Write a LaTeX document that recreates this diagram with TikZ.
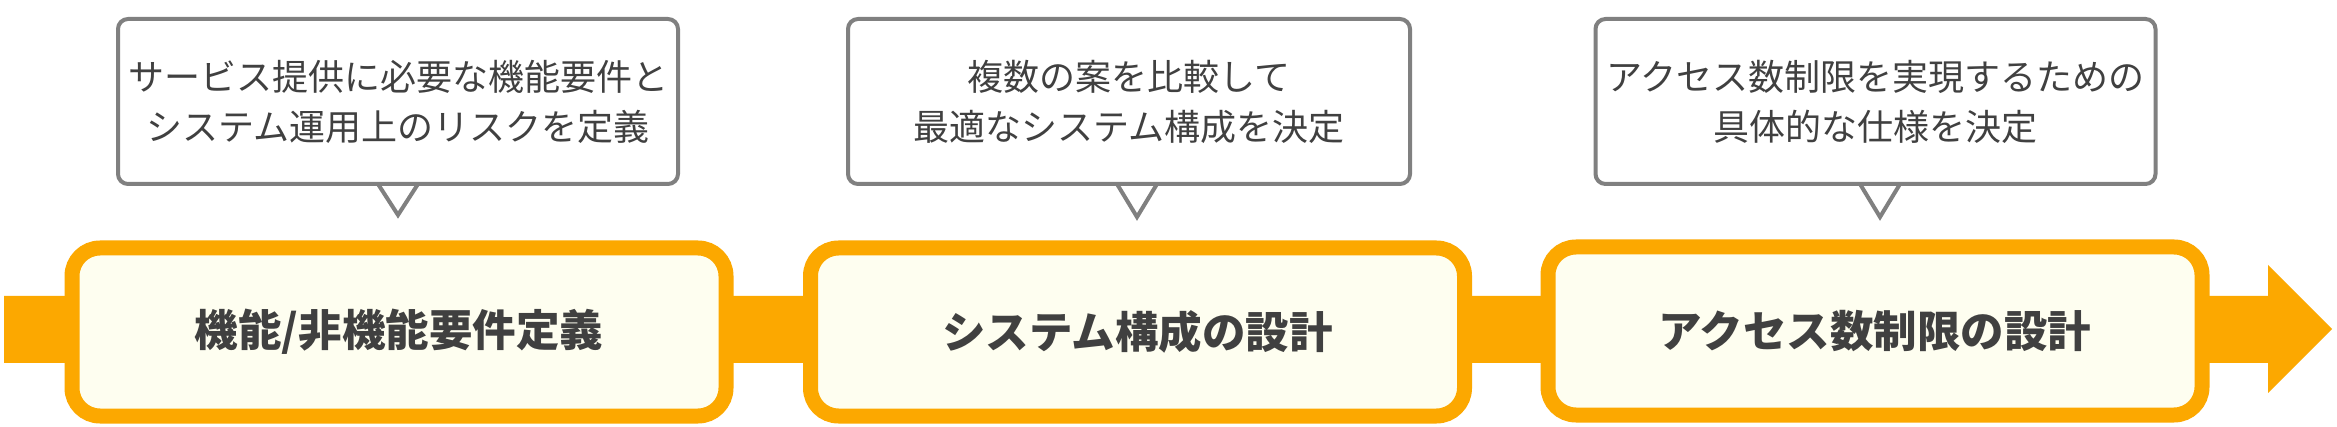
\documentclass[tikz,border=0pt]{standalone}
\usepackage{fontspec}
\setmainfont{Noto Sans CJK JP}
\begin{document}
\begin{tikzpicture}[x=1pt,y=-1pt,
  every node/.style={inner sep=0pt, outer sep=0pt},
  calloutbox/.style={draw=calloutgray, line width=4pt, fill=white, rounded corners=10pt,
    minimum width=560pt, minimum height=165pt, align=center, text=textgray,
    font=\fontsize{36pt}{50pt}\selectfont},
  tailfill/.style={fill=white},
  tailline/.style={draw=calloutgray, line width=4pt, line join=miter},
  stepbox/.style={draw=bandorange, line width=15pt, fill=boxfill, rounded corners=28pt,
    minimum width=654pt, minimum height=168pt, text=textgray,
    font=\fontsize{43.5pt}{50pt}\selectfont\bfseries},
  band/.style={fill=bandorange}]
\definecolor{bandorange}{HTML}{FCA800}
\definecolor{boxfill}{HTML}{FEFEF0}
\definecolor{calloutgray}{HTML}{808080}
\definecolor{textgray}{HTML}{404040}
\useasboundingbox (0,0) rectangle (2337,427);
\fill[white] (0,0) rectangle (2337,427);
% band arrow
\fill[band] (4,296) -- (2268,296) -- (2268,265) -- (2332,329) -- (2268,393) -- (2268,363) -- (4,363) -- cycle;
% step boxes
\node[stepbox] (b1) at (399,332) {機能/非機能要件定義};
\node[stepbox] (b2) at (1137.5,332) {システム構成の設計};
\node[stepbox] (b3) at (1875,331) {アクセス数制限の設計};
% callouts
\node[calloutbox] (c1) at (398,101.5) {サービス提供に必要な機能要件と\\システム運用上のリスクを定義};
\node[calloutbox, minimum width=562pt] (c2) at (1129,101.5) {複数の案を比較して\\最適なシステム構成を決定};
\node[calloutbox] (c3) at (1875.5,101.5) {アクセス数制限を実現するための\\具体的な仕様を決定};
% tails
\coordinate (t1) at (398,215);
\coordinate (t2) at (1137,217);
\coordinate (t3) at (1880,217);
\foreach \c/\t in {c1/t1,c2/t2,c3/t3}{
  \fill[tailfill] ([xshift=-17pt,yshift=-4pt]\c.south -| \t) -- (\t) -- ([xshift=17pt,yshift=-4pt]\c.south -| \t) -- cycle;
  \draw[tailline] ([xshift=-20pt]\c.south -| \t) -- (\t) -- ([xshift=20pt]\c.south -| \t);
}
\end{tikzpicture}
\end{document}
